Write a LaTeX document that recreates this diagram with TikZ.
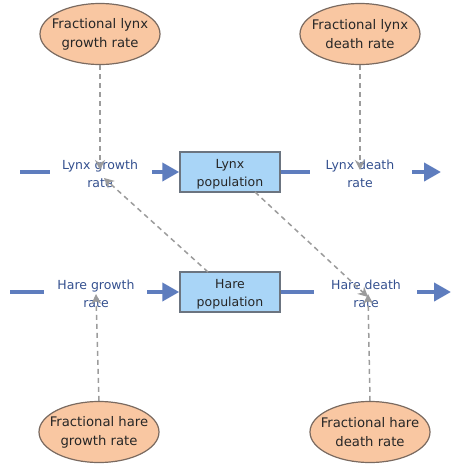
\documentclass[tikz,border=0pt]{standalone}
\usepackage{fontspec}
\setmainfont{DejaVu Sans}
\usetikzlibrary{arrows.meta,shapes.geometric}
\definecolor{ellfill}{HTML}{F9C7A2}
\definecolor{elldraw}{HTML}{7A6A60}
\definecolor{boxfill}{HTML}{A9D5F7}
\definecolor{boxdraw}{HTML}{6B7480}
\definecolor{flow}{HTML}{5E7DBE}
\definecolor{ratetext}{HTML}{34508F}
\definecolor{linkgray}{HTML}{9C9C9C}
\tikzset{
  x=1pt,y=-1pt,
  aux/.style={ellipse,draw=elldraw,line width=1.2pt,fill=ellfill,minimum width=120pt,minimum height=61pt,inner xsep=-12pt,inner ysep=-6pt,align=center,font=\fontsize{13.2}{19}\selectfont,text=black!85},
  stock/.style={rectangle,draw=boxdraw,line width=1.5pt,fill=boxfill,minimum width=100pt,minimum height=40pt,inner sep=0pt,align=center,font=\fontsize{12.5}{18}\selectfont,text=black!85},
  rate/.style={align=center,inner sep=0pt,font=\fontsize{12.5}{18}\selectfont,text=ratetext},
  flowline/.style={draw=flow,line width=4pt},
  flowarrow/.style={draw=flow,line width=4pt,-{Triangle[length=17pt,width=18pt]}},
  link/.style={draw=linkgray,line width=1.5pt,dash pattern=on 5pt off 4pt,-{Stealth[length=10pt,width=10pt]}}
}
\begin{document}
\begin{tikzpicture}
\useasboundingbox (0,0) rectangle (461,464);
% auxiliaries
\node[aux] (flg) at (100,34) {Fractional lynx\\growth rate};
\node[aux] (fld) at (360,34) {Fractional lynx\\death rate};
\node[aux] (fhg) at (99,432) {Fractional hare\\growth rate};
\node[aux] (fhd) at (370,432) {Fractional hare\\death rate};
% stocks
\node[stock] (lynx) at (230,172) {};
\node[stock] (hare) at (230,292) {};
\node[align=center,inner sep=0pt,font=\fontsize{12.5}{18}\selectfont,text=black!85] (lynxt) at (230,174) {Lynx\\population};
\node[align=center,inner sep=0pt,font=\fontsize{12.5}{18}\selectfont,text=black!85] (haret) at (230,294) {Hare\\population};
% rates
\node[rate] (lgr) at (100,174) {Lynx growth\\rate};
\node[rate] (ldr) at (360,174) {Lynx death\\rate};
\node[rate] (hgr) at (96,294) {Hare growth\\rate};
\node[rate] (hdr) at (366,294) {Hare death\\rate};
% flow coordinates
\coordinate (l1) at (20,172);  \coordinate (l2) at (50,172);
\coordinate (l3) at (152,172);
\coordinate (l4) at (310,172);
\coordinate (l5) at (412,172); \coordinate (l6) at (441,172);
\coordinate (h1) at (10,292);  \coordinate (h2) at (44,292);
\coordinate (h3) at (147,292);
\coordinate (h4) at (314,292);
\coordinate (h5) at (417,292); \coordinate (h6) at (451,292);
\draw[flowline] (l1) -- (l2);
\draw[flowarrow] (l3) -- (lynx.west);
\draw[flowline] (lynx.east) -- (l4);
\draw[flowarrow] (l5) -- (l6);
\draw[flowline] (h1) -- (h2);
\draw[flowarrow] (h3) -- (hare.west);
\draw[flowline] (hare.east) -- (h4);
\draw[flowarrow] (h5) -- (h6);
% link targets
\coordinate (tlg) at (100,170);
\coordinate (tld) at (360,170);
\coordinate (tlg2) at (104,178);
\coordinate (thg) at (96,294);
\coordinate (thd) at (368,294);
\coordinate (thd2) at (368,297);
\coordinate (hs) at (208,272);
\coordinate (ls) at (255,192);
\draw[link] (flg.south) -- (tlg);
\draw[link] (fld.south) -- (tld);
\draw[link] (fhg.north) -- (thg);
\draw[link] (fhd.north) -- (thd);
\draw[link] (hs) -- (tlg2);
\draw[link] (ls) -- (thd2);
\end{tikzpicture}
\end{document}
